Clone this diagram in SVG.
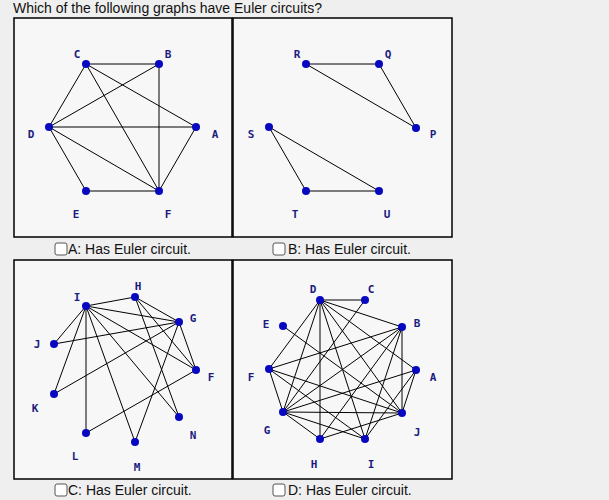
<svg xmlns="http://www.w3.org/2000/svg" width="609" height="500" viewBox="0 0 609 500">
<style>
.bg{fill:#efefef}
.panel{fill:#f7f7f7;stroke:#000;stroke-width:1.5}
.e{stroke:#000;stroke-width:1;fill:none}
.n{fill:#0808c0}
.l{font-family:"DejaVu Sans Mono",monospace;font-weight:bold;font-size:11px;fill:#1c1c80;text-anchor:middle}
.t{font-family:"Liberation Sans",Arial,sans-serif;font-size:14px;fill:#111}
.cb{fill:#fff;stroke:#555;stroke-width:1}
</style>
<rect class="bg" x="0" y="0" width="609" height="500"/>
<text class="t" x="13" y="13">Which of the following graphs have Euler circuits?</text>
<rect class="panel" x="14" y="18" width="218" height="219"/>
<rect class="panel" x="233" y="18" width="219" height="219"/>
<rect class="panel" x="14" y="260" width="218" height="219"/>
<rect class="panel" x="233" y="260" width="219" height="219"/>
<g id="connectors">
<path class="e" d="M86 64L159 64M159 64L159 191M86 64L49 127M86 64L159 191M86 64L196 127M49 127L159 64M49 127L196 127M49 127L159 191M49 127L86 191M86 191L159 191M196 127L159 191"/>
<path class="e" d="M306 64L379 64M379 64L416 128M306 64L416 128M269 127L306 191M269 127L379 191M306 191L379 191"/>
<path class="e" d="M86 306L135 297M86 306L179 322M86 306L196 370M86 306L54 344M86 306L54 394M86 306L86 433M86 306L135 442M86 306L179 417M135 297L179 322M135 297L196 370M135 297L179 417M179 322L54 344M179 322L54 394M179 322L196 370M179 322L135 442M196 370L86 433"/>
<path class="e" d="M320 300L365 300M320 300L402 327M320 300L269 369M320 300L283 412M320 300L320 439M320 300L365 439M320 300L402 413M320 300L416 370M365 300L283 412M283 326L402 413M269 369L402 327M269 369L283 412M269 369L402 413M269 369L365 439M283 412L402 327M283 412L416 370M283 412L402 413M283 412L320 439M283 412L365 439M402 327L320 439M402 327L365 439M402 327L402 413M416 370L402 413M416 370L365 439M320 439L402 413"/>
</g>
<g id="graphA">
<g id="A-C"><circle class="n" cx="86" cy="64" r="4"/><text class="l" x="77" y="58">C</text></g>
<g id="A-B"><circle class="n" cx="159" cy="64" r="4"/><text class="l" x="168" y="58">B</text></g>
<g id="A-D"><circle class="n" cx="49" cy="127" r="4"/><text class="l" x="31" y="138">D</text></g>
<g id="A-A"><circle class="n" cx="196" cy="127" r="4"/><text class="l" x="215" y="138">A</text></g>
<g id="A-E"><circle class="n" cx="86" cy="191" r="4"/><text class="l" x="76" y="218">E</text></g>
<g id="A-F"><circle class="n" cx="159" cy="191" r="4"/><text class="l" x="168" y="218">F</text></g>
</g>
<g id="graphB">
<g id="B-R"><circle class="n" cx="306" cy="64" r="4"/><text class="l" x="297" y="58">R</text></g>
<g id="B-Q"><circle class="n" cx="379" cy="64" r="4"/><text class="l" x="388" y="58">Q</text></g>
<g id="B-P"><circle class="n" cx="416" cy="128" r="4"/><text class="l" x="433" y="138">P</text></g>
<g id="B-S"><circle class="n" cx="269" cy="127" r="4"/><text class="l" x="251" y="138">S</text></g>
<g id="B-T"><circle class="n" cx="306" cy="191" r="4"/><text class="l" x="295" y="218">T</text></g>
<g id="B-U"><circle class="n" cx="379" cy="191" r="4"/><text class="l" x="387" y="218">U</text></g>
</g>
<g id="graphC">
<g id="C-I"><circle class="n" cx="86" cy="306" r="4"/><text class="l" x="77" y="301">I</text></g>
<g id="C-H"><circle class="n" cx="135" cy="297" r="4"/><text class="l" x="138" y="290">H</text></g>
<g id="C-G"><circle class="n" cx="179" cy="322" r="4"/><text class="l" x="193" y="322">G</text></g>
<g id="C-J"><circle class="n" cx="54" cy="344" r="4"/><text class="l" x="37" y="348">J</text></g>
<g id="C-F"><circle class="n" cx="196" cy="370" r="4"/><text class="l" x="211" y="381">F</text></g>
<g id="C-K"><circle class="n" cx="54" cy="394" r="4"/><text class="l" x="35" y="412">K</text></g>
<g id="C-N"><circle class="n" cx="179" cy="417" r="4"/><text class="l" x="193" y="439">N</text></g>
<g id="C-L"><circle class="n" cx="86" cy="433" r="4"/><text class="l" x="75" y="460">L</text></g>
<g id="C-M"><circle class="n" cx="135" cy="442" r="4"/><text class="l" x="137" y="471">M</text></g>
</g>
<g id="graphD">
<g id="D-D"><circle class="n" cx="320" cy="300" r="4"/><text class="l" x="313" y="293">D</text></g>
<g id="D-C"><circle class="n" cx="365" cy="300" r="4"/><text class="l" x="371" y="293">C</text></g>
<g id="D-E"><circle class="n" cx="283" cy="326" r="4"/><text class="l" x="266" y="328">E</text></g>
<g id="D-B"><circle class="n" cx="402" cy="327" r="4"/><text class="l" x="417" y="327">B</text></g>
<g id="D-F"><circle class="n" cx="269" cy="369" r="4"/><text class="l" x="251" y="381">F</text></g>
<g id="D-A"><circle class="n" cx="416" cy="370" r="4"/><text class="l" x="433" y="381">A</text></g>
<g id="D-G"><circle class="n" cx="283" cy="412" r="4"/><text class="l" x="267" y="434">G</text></g>
<g id="D-J"><circle class="n" cx="402" cy="413" r="4"/><text class="l" x="417" y="436">J</text></g>
<g id="D-H"><circle class="n" cx="320" cy="439" r="4"/><text class="l" x="314" y="468">H</text></g>
<g id="D-I"><circle class="n" cx="365" cy="439" r="4"/><text class="l" x="371" y="468">I</text></g>
</g>
<g id="answers">
<rect class="cb" x="55" y="243" width="12" height="12" rx="2"/><text class="t" x="68" y="254">A: Has Euler circuit.</text>
<rect class="cb" x="273" y="243" width="12" height="12" rx="2"/><text class="t" x="288" y="254">B: Has Euler circuit.</text>
<rect class="cb" x="55" y="484" width="12" height="12" rx="2"/><text class="t" x="68" y="495">C: Has Euler circuit.</text>
<rect class="cb" x="273" y="484" width="12" height="12" rx="2"/><text class="t" x="288" y="495">D: Has Euler circuit.</text>
</g>
</svg>
